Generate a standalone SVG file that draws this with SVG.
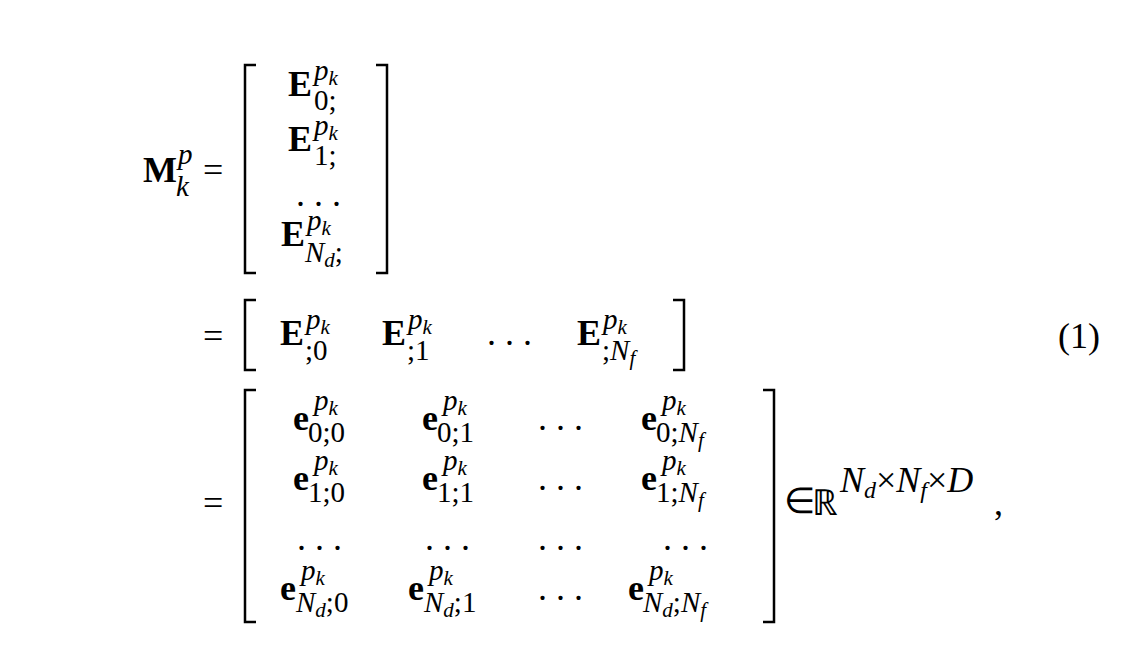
<svg xmlns="http://www.w3.org/2000/svg" width="1129" height="654" viewBox="0 0 1129 654">
<style>
text{font-family:"Liberation Serif",serif;font-size:36px;fill:#000}
.b{font-weight:bold}
.i{font-style:italic}
.s{font-size:29px}
.t{font-size:21px}
.br{fill:none;stroke:#000;stroke-width:2.5}
</style>
<rect width="1129" height="654" fill="#fff"/>
<g id="lhs">
<text x="143" y="182" class="b">M</text>
<text x="178" y="164" class="i s">p</text>
<text x="176" y="196" class="i s">k</text>
<text x="203" y="182">=</text>
<text x="203" y="348">=</text>
<text x="203" y="515">=</text>
</g>
<g id="brackets">
<path class="br" d="M256 65H245V273H256"/>
<path class="br" d="M376 65H387V273H376"/>
<path class="br" d="M256 300H245V370H256"/>
<path class="br" d="M673 300H684V370H673"/>
<path class="br" d="M256 390H245V622H256"/>
<path class="br" d="M763 390H774V622H763"/>
</g>
<g id="m1">
<text x="288" y="96" class="b">E</text><text x="314" y="80" class="i s">p<tspan class="t" dy="5">k</tspan></text><text x="314" y="110" class="s">0;</text>
<text x="288" y="151" class="b">E</text><text x="314" y="135" class="i s">p<tspan class="t" dy="5">k</tspan></text><text x="314" y="165" class="s">1;</text>
<text x="296" y="206">. . .</text>
<text x="281" y="246" class="b">E</text><text x="307" y="230" class="i s">p<tspan class="t" dy="5">k</tspan></text><text x="305" y="262" class="i s">N<tspan class="t" dy="5">d</tspan><tspan dy="-5" font-style="normal">;</tspan></text>
</g>
<g id="m2">
<text x="280" y="345" class="b">E</text><text x="306" y="329" class="i s">p<tspan class="t" dy="5">k</tspan></text><text x="305" y="360" class="s">;0</text>
<text x="382" y="345" class="b">E</text><text x="408" y="329" class="i s">p<tspan class="t" dy="5">k</tspan></text><text x="407" y="360" class="s">;1</text>
<text x="487" y="345">. . .</text>
<text x="577" y="345" class="b">E</text><text x="603" y="329" class="i s">p<tspan class="t" dy="5">k</tspan></text><text x="602" y="360" class="s">;<tspan font-style="italic">N<tspan class="t" dy="5">f</tspan></tspan></text>
<text x="1058" y="348">(1)</text>
</g>
<g id="m3">
<text x="293" y="430" class="b">e</text><text x="314" y="410" class="i s">p<tspan class="t" dy="5">k</tspan></text><text x="308" y="442" class="s">0;0</text>
<text x="422" y="430" class="b">e</text><text x="443" y="410" class="i s">p<tspan class="t" dy="5">k</tspan></text><text x="437" y="442" class="s">0;1</text>
<text x="538" y="430">. . .</text>
<text x="641" y="430" class="b">e</text><text x="662" y="410" class="i s">p<tspan class="t" dy="5">k</tspan></text><text x="656" y="442" class="s">0;<tspan font-style="italic">N<tspan class="t" dy="5">f</tspan></tspan></text>
<text x="293" y="490" class="b">e</text><text x="314" y="470" class="i s">p<tspan class="t" dy="5">k</tspan></text><text x="308" y="502" class="s">1;0</text>
<text x="422" y="490" class="b">e</text><text x="443" y="470" class="i s">p<tspan class="t" dy="5">k</tspan></text><text x="437" y="502" class="s">1;1</text>
<text x="538" y="490">. . .</text>
<text x="641" y="490" class="b">e</text><text x="662" y="470" class="i s">p<tspan class="t" dy="5">k</tspan></text><text x="656" y="502" class="s">1;<tspan font-style="italic">N<tspan class="t" dy="5">f</tspan></tspan></text>
<text x="297" y="550">. . .</text>
<text x="425" y="550">. . .</text>
<text x="538" y="550">. . .</text>
<text x="663" y="550">. . .</text>
<text x="280" y="600" class="b">e</text><text x="301" y="580" class="i s">p<tspan class="t" dy="5">k</tspan></text><text x="296" y="612" class="i s">N<tspan class="t" dy="5">d</tspan><tspan dy="-5" font-style="normal">;0</tspan></text>
<text x="408" y="600" class="b">e</text><text x="429" y="580" class="i s">p<tspan class="t" dy="5">k</tspan></text><text x="424" y="612" class="i s">N<tspan class="t" dy="5">d</tspan><tspan dy="-5" font-style="normal">;1</tspan></text>
<text x="538" y="600">. . .</text>
<text x="628" y="600" class="b">e</text><text x="649" y="580" class="i s">p<tspan class="t" dy="5">k</tspan></text><text x="643" y="612" class="i s">N<tspan class="t" dy="5">d</tspan><tspan dy="-5" font-style="normal">;</tspan>N<tspan class="t" dy="5">f</tspan></text>
<text x="784" y="513" font-size="26">∈</text>
<text x="812" y="515" font-family="DejaVu Serif" font-size="30">ℝ</text>
<text x="840" y="492" class="i" font-size="34">N<tspan font-size="24" dy="6">d</tspan><tspan dy="-6" font-style="normal">×</tspan>N<tspan font-size="24" dy="6">f</tspan><tspan dy="-6" font-style="normal">×</tspan>D</text>
<text x="994" y="515">,</text>
</g>
</svg>
